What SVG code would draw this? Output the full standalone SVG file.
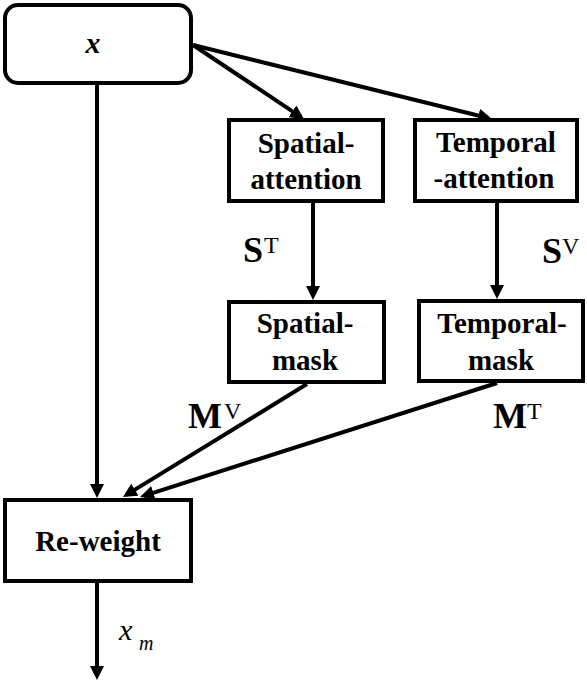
<svg xmlns="http://www.w3.org/2000/svg" width="587" height="682" viewBox="0 0 587 682">
<style>
.box{fill:#fff;stroke:#000;stroke-width:4}
.lbl{font-family:"Liberation Serif","Times New Roman",serif;font-weight:bold;font-size:29px;fill:#000;text-anchor:middle}
.var{font-family:"Liberation Serif","Times New Roman",serif;font-style:italic;fill:#000}
.big{font-family:"Liberation Serif","Times New Roman",serif;font-weight:bold;font-size:36px;fill:#000}
.sup{font-family:"Liberation Serif","Times New Roman",serif;font-size:24px;fill:#000}
.edge{stroke:#000;stroke-width:4;fill:none;marker-end:url(#ah)}
</style>
<defs>
<marker id="ah" markerUnits="userSpaceOnUse" markerWidth="14" markerHeight="14" refX="10" refY="7" orient="auto">
<path d="M0,0 L14,7 L0,14 z" fill="#000"/>
</marker>
</defs>
<rect width="587" height="682" fill="#fff"/>
<g id="connectors">
<line class="edge" x1="193" y1="45" x2="300.7" y2="116.8"/>
<line class="edge" x1="193" y1="45" x2="488.1" y2="118"/>
<line class="edge" x1="97" y1="85" x2="97" y2="494"/>
<line class="edge" x1="313" y1="203" x2="313" y2="296"/>
<line class="edge" x1="497" y1="202" x2="497" y2="295"/>
<line class="edge" x1="307" y1="384" x2="126.4" y2="494.9"/>
<line class="edge" x1="497" y1="383" x2="143.8" y2="495.8"/>
<line class="edge" x1="97" y1="583" x2="97" y2="676"/>
</g>
<g id="node-x">
<rect class="box" x="5" y="5" width="186" height="78" rx="13"/>
<text class="var" x="93" y="53" font-size="30" font-weight="bold" text-anchor="middle">x</text>
</g>
<g id="node-spatial-attention">
<rect class="box" x="229" y="120" width="154" height="81"/>
<text class="lbl" x="306" y="153">Spatial-</text>
<text class="lbl" x="306" y="189">attention</text>
</g>
<g id="node-temporal-attention">
<rect class="box" x="415" y="120" width="162" height="81"/>
<text class="lbl" x="496" y="152">Temporal</text>
<text class="lbl" x="494" y="188">-attention</text>
</g>
<g id="node-spatial-mask">
<rect class="box" x="229" y="302" width="155" height="80"/>
<text class="lbl" x="305" y="333">Spatial-</text>
<text class="lbl" x="305" y="370">mask</text>
</g>
<g id="node-temporal-mask">
<rect class="box" x="419" y="301" width="164" height="80"/>
<text class="lbl" x="502" y="333">Temporal-</text>
<text class="lbl" x="501" y="370">mask</text>
</g>
<g id="node-reweight">
<rect class="box" x="5" y="500" width="186" height="81"/>
<text class="lbl" x="98" y="551" font-size="30">Re-weight</text>
</g>
<g id="labels">
<text class="big" x="243" y="262">S</text><text class="sup" x="264" y="253">T</text>
<text class="big" x="542" y="263">S</text><text class="sup" x="562" y="254">V</text>
<text class="big" x="188" y="428">M</text><text class="sup" x="224" y="419">V</text>
<text class="big" x="493" y="428">M</text><text class="sup" x="527" y="419">T</text>
<text class="var" x="119" y="640" font-size="30">x</text><text class="var" x="139" y="650" font-size="20">m</text>
</g>
</svg>
